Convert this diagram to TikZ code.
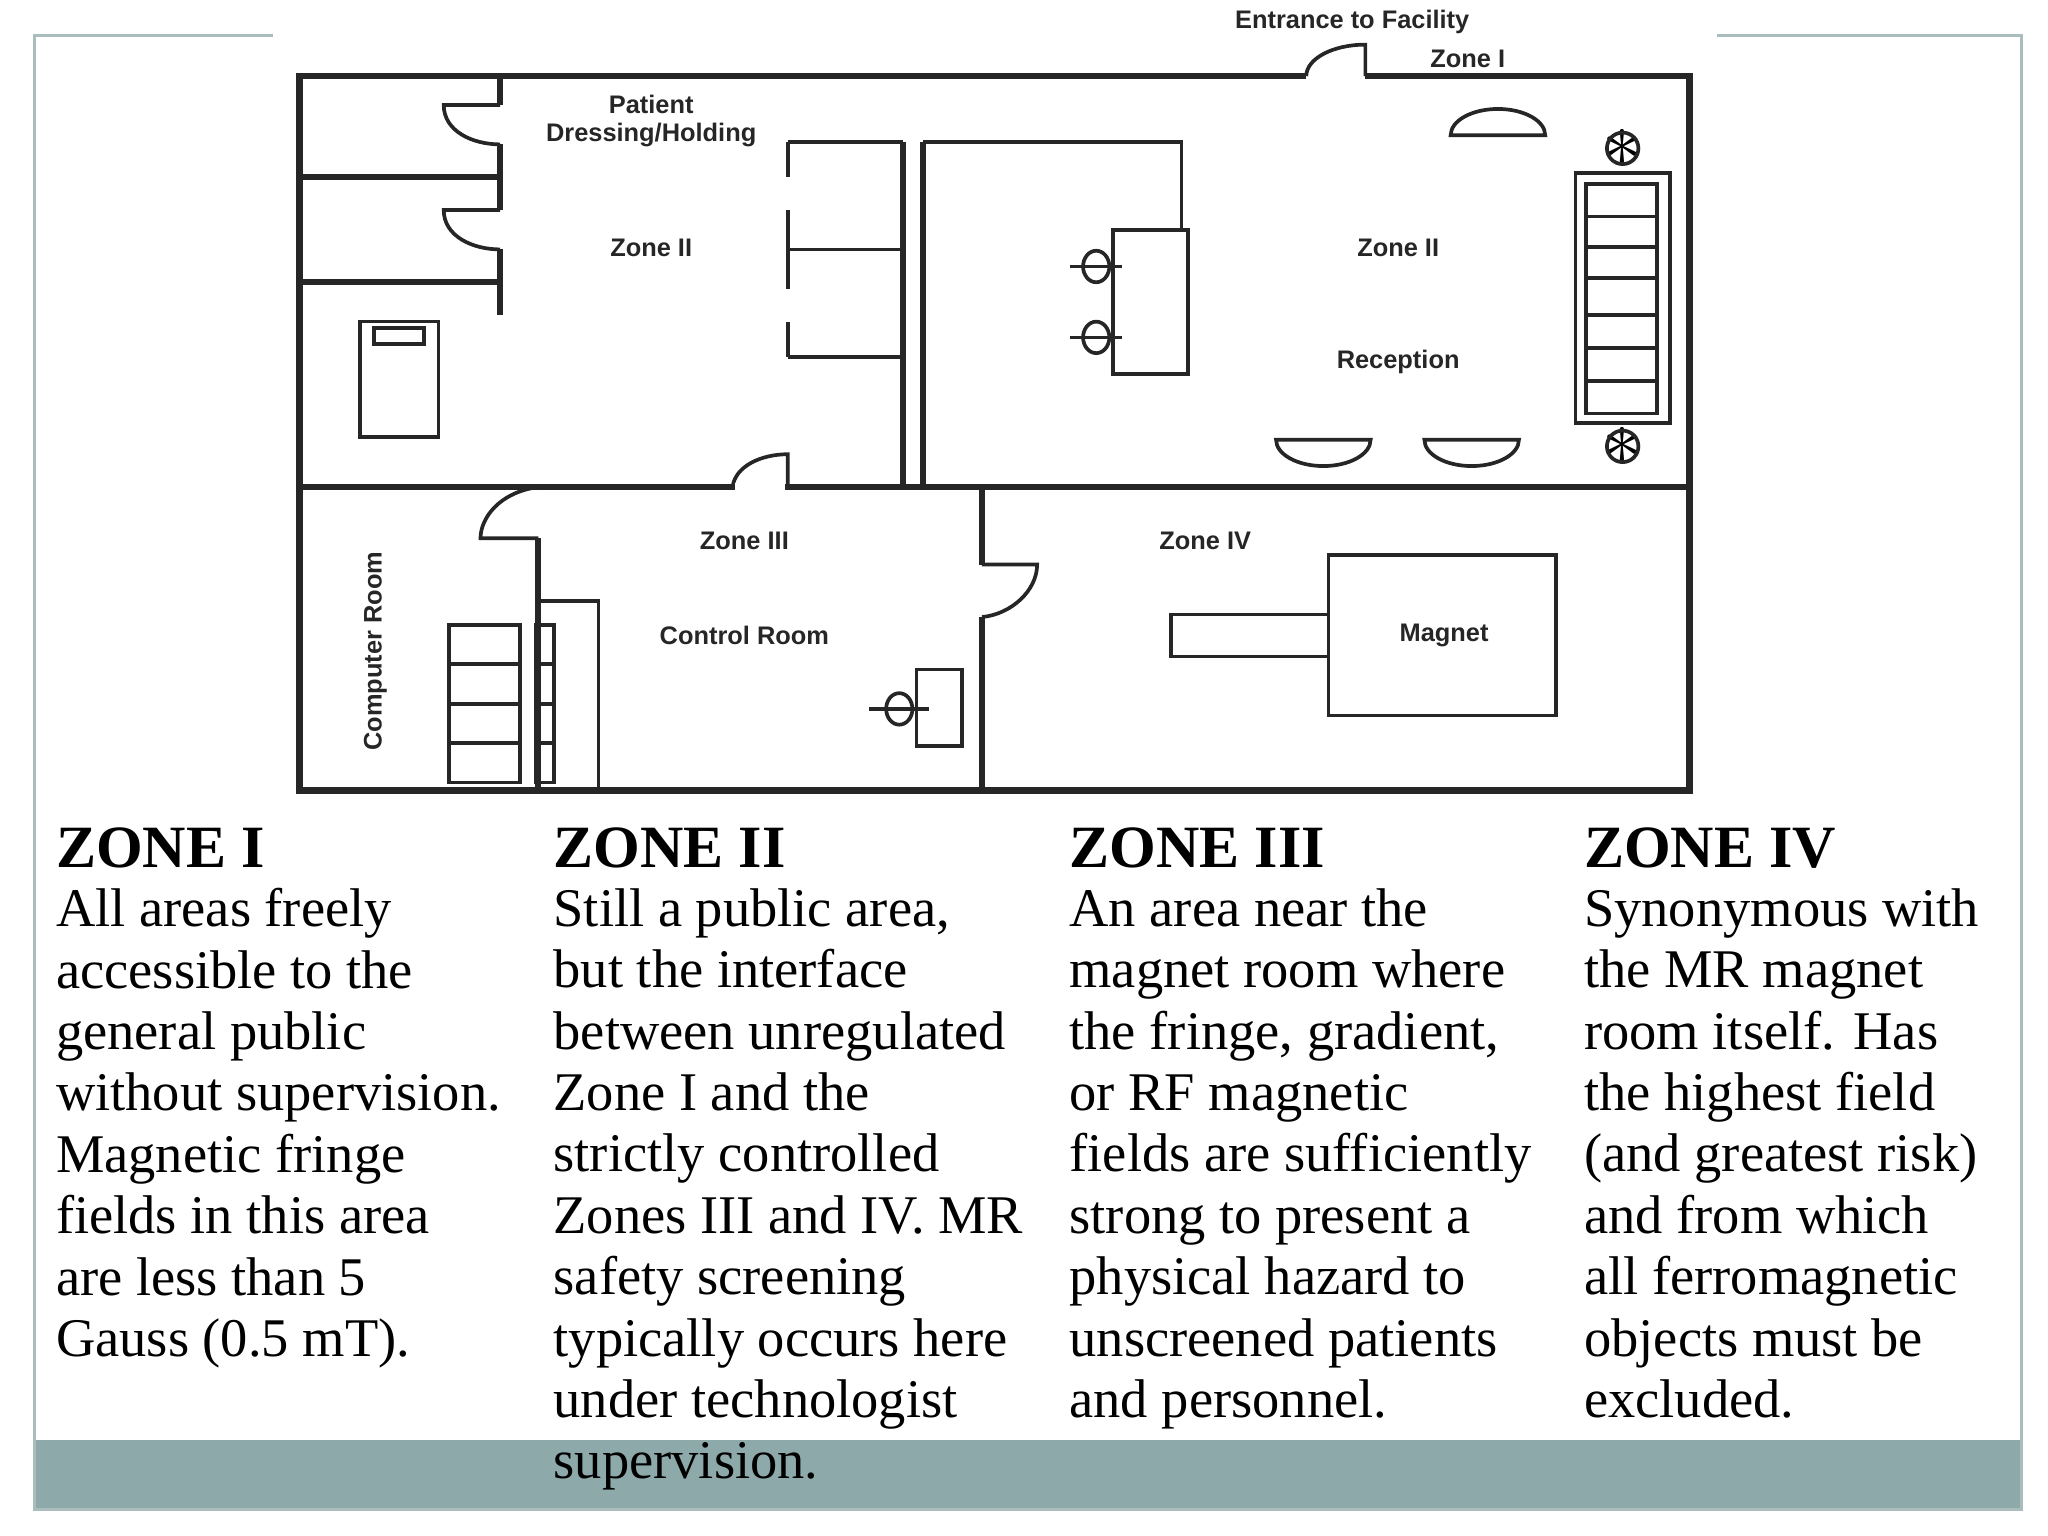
\documentclass[tikz,border=0pt]{standalone}
\usepackage{fontspec}
\setmainfont{Liberation Serif}
\newfontfamily\planfont{Liberation Sans}
\definecolor{band}{HTML}{8DA9AA}
\definecolor{frame}{HTML}{A9BDBD}
\begin{document}
\begin{tikzpicture}[x=0.01cm,y=-0.01cm,
  wall/.style={line width=1.4pt,black!85},
  thin/.style={line width=0.8pt,black!85},
  lab/.style={font=\planfont\bfseries\fontsize{5.5}{6}\selectfont,black!85},
  head/.style={anchor=north west,inner sep=0pt,font=\bfseries\fontsize{13}{15}\selectfont},
  body/.style={anchor=north west,inner sep=0pt,align=left,font=\fontsize{11.8}{13.3}\selectfont}]
\useasboundingbox (0,0) rectangle (1560,1170);
% frame
\fill[band] (26,1097) rectangle (1540,1150);
\draw[frame,line width=0.7pt] (208,27) -- (26,27) -- (26,1150) -- (1540,1150) -- (1540,27) -- (1308,27);
% outer walls
\draw[wall] (995,58) -- (228,58) -- (228,602) -- (1287,602) -- (1287,58) -- (1040,58);
\draw[thin] (1040,58) -- (1040,34) arc (270:180:45 and 24);
\draw[wall] (228,371) -- (1287,371);
% left small rooms
\draw[wall] (381,58) -- (381,80); \draw[wall] (381,110) -- (381,160); \draw[wall] (381,190) -- (381,240);
\draw[thin] (381,80) -- (338,80) .. controls (338,100) and (360,110) .. (381,110);
\draw[thin] (381,160) -- (338,160) .. controls (338,180) and (360,190) .. (381,190);
\draw[wall] (228,135) -- (381,135); \draw[wall] (228,215) -- (381,215);
% patient shelves
\draw[thin] (600,108) -- (600,135); \draw[thin] (600,160) -- (600,220); \draw[thin] (600,245) -- (600,272);
\draw[thin] (600,108) -- (688,108); \draw[thin] (600,190) -- (688,190); \draw[thin] (600,272) -- (688,272);
\draw[wall] (688,108) -- (688,371); \draw[wall] (703,108) -- (703,371);
\draw[thin] (703,108) -- (900,108) -- (900,175);
% door to control room
\draw[thin] (600,371) -- (600,346) .. controls (580,346) and (560,355) .. (558,371);
\draw[white,line width=1.6pt] (560,371) -- (598,371);
% reception desk
\draw[thin] (848,175) rectangle (905,285);
\foreach \yy in {203,257}{\draw[thin] (835,\yy) circle (10 and 12); \draw[thin] (815,\yy) -- (855,\yy);}
% sofa
\draw[thin] (1200,132) rectangle (1272,322);
\draw[thin] (1208,140) rectangle (1262,315);
\foreach \yy in {165,188,212,240,265,290}{\draw[thin] (1208,\yy) -- (1262,\yy);}
\foreach \yy in {113,340}{\node[font=\fontsize{16}{16}\selectfont] at (1236,\yy) {$\ast$};\draw[thin] (1236,\yy) circle (12);}
% chairs
\draw[thin] (1105,103) arc (180:360:36 and 20) -- cycle;
\draw[thin] (972,335) arc (180:0:36 and 20) -- cycle;
\draw[thin] (1085,335) arc (180:0:36 and 20) -- cycle;
% bed
\draw[thin] (274,245) rectangle (334,333); \draw[thin] (285,250) rectangle (323,262);
% computer room
\draw[wall] (410,410) -- (410,602);
\draw[thin] (410,410) -- (366,410) .. controls (366,395) and (380,375) .. (410,371);
\draw[white,line width=1.6pt] (410,373) -- (410,408);
\draw[thin] (410,458) -- (456,458) -- (456,602);
\draw[thin] (342,476) rectangle (396,596); \draw[thin] (408,476) rectangle (422,596);
\foreach \yy in {506,536,566}{\draw[thin] (342,\yy) -- (396,\yy); \draw[thin] (408,\yy) -- (422,\yy);}
% control room / magnet door
\draw[wall] (748,371) -- (748,430); \draw[wall] (748,470) -- (748,602);
\draw[thin] (748,430) -- (790,430) .. controls (790,450) and (770,468) .. (748,470);
\draw[thin] (698,510) rectangle (733,568);
\draw[thin] (685,540) circle (10 and 12); \draw[thin] (662,540) -- (708,540);
% magnet
\draw[thin] (1012,423) rectangle (1185,545);
\draw[thin] (892,468) rectangle (1012,500);
% labels
\node[lab] at (1030,17) {Entrance to Facility};
\node[lab] at (1118,45) {Zone I};
\node[lab,align=center] at (496,92) {Patient\\Dressing/Holding};
\node[lab] at (496,189) {Zone II};
\node[lab] at (1065,189) {Zone II};
\node[lab] at (1065,276) {Reception};
\node[lab] at (567,412) {Zone III};
\node[lab] at (567,484) {Control Room};
\node[lab] at (918,412) {Zone IV};
\node[lab] at (1100,484) {Magnet};
\node[lab,rotate=90] at (286,496) {Computer Room};
% text
\node[head] at (42,630) {ZONE I};
\node[head] at (421,630) {ZONE II};
\node[head] at (814,630) {ZONE III};
\node[head] at (1206,630) {ZONE IV};
\node[body] at (42,676) {All areas freely\\accessible to the\\general public\\without supervision.\\Magnetic fringe\\fields in this area\\are less than 5\\Gauss (0.5 mT).};
\node[body] at (421,676) {Still a public area,\\but the interface\\between unregulated\\Zone I and the\\strictly controlled\\Zones III and IV. MR\\safety screening\\typically occurs here\\under technologist\\supervision.};
\node[body] at (814,676) {An area near the\\magnet room where\\the fringe, gradient,\\or RF magnetic\\fields are sufficiently\\strong to present a\\physical hazard to\\unscreened patients\\and personnel.};
\node[body] at (1206,676) {Synonymous with\\the MR magnet\\room itself. Has\\the highest field\\(and greatest risk)\\and from which\\all ferromagnetic\\objects must be\\excluded.};
\end{tikzpicture}
\end{document}
